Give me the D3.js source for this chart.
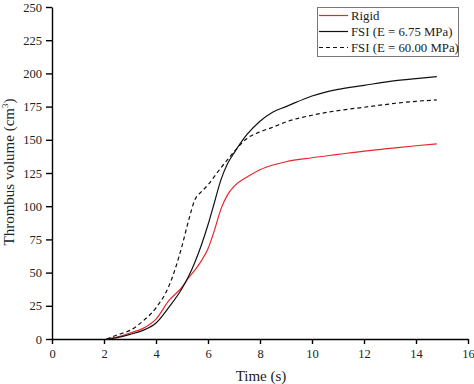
<!DOCTYPE html>
<html><head><meta charset="utf-8">
<script src="https://cdn.jsdelivr.net/npm/d3@7"></script>
<style>body{margin:0;background:#fff}svg{display:block}</style>
</head><body>
<svg id="c" width="474" height="384"></svg>
<script>
const times  = [2.1, 2.5, 3, 3.5, 4, 4.5, 5, 5.25, 5.5, 5.75, 6, 6.25, 6.5, 6.75, 7, 7.5, 8, 8.5, 9, 10, 11, 12, 13, 14, 14.8];
const rigid  = [0, 1.5, 4.5, 8, 15, 29, 39, 46, 52, 59, 68, 82, 98, 108.5, 115, 122, 127.5, 131, 133.5, 136.5, 139, 141.5, 143.5, 145.5, 147];
const fsi675 = [0, 1, 3.5, 6.5, 12, 24, 38, 47, 58, 71, 86, 103, 120, 132, 140, 154, 164, 171, 175, 183, 188, 191, 194, 196, 197.5];
const fsi60  = [0, 3, 6.5, 13.5, 23.5, 40, 70, 89, 105, 111, 116, 122.5, 129, 135, 141, 151, 156, 159.5, 163.5, 168.5, 172, 174.5, 177, 179, 180];
const xTicks = [0, 2, 4, 6, 8, 10, 12, 14, 16];
const yTicks = [0, 25, 50, 75, 100, 125, 150, 175, 200, 225, 250];
const seriesNames = ["Rigid", "FSI (E = 6.75 MPa)", "FSI (E = 60.00 MPa)"];

const svg = d3.select("#c");
const font = "'Liberation Serif', 'Times New Roman', serif";
const x = d3.scaleLinear().domain([0, 16]).range([52, 468]);
const y = d3.scaleLinear().domain([0, 250]).range([339, 7]);

const xa = svg.append("g").attr("transform", "translate(0,339)")
  .call(d3.axisBottom(x).tickValues(xTicks).tickSize(5).tickSizeOuter(0).tickPadding(5));
const ya = svg.append("g").attr("transform", "translate(52,0)")
  .call(d3.axisLeft(y).tickValues(yTicks).tickSize(6).tickSizeOuter(0).tickPadding(4));
[xa, ya].forEach(a => {
  a.selectAll("path, line").attr("stroke", "#000").attr("stroke-width", 1.4);
  a.selectAll("text").attr("font-family", font).attr("font-size", 12.5).attr("fill", "#222");
});

const series = [
  {name: seriesNames[0], v: rigid, color: "#e8262d", dash: null},
  {name: seriesNames[1], v: fsi675, color: "#111", dash: null},
  {name: seriesNames[2], v: fsi60, color: "#111", dash: "4,3"}
];
const line = d3.line().x(d => x(d[0])).y(d => y(d[1])).curve(d3.curveMonotoneX);
series.forEach(s => {
  svg.append("path").datum(times.map((t, i) => [t, s.v[i]]))
    .attr("d", line).attr("fill", "none").attr("stroke", s.color)
    .attr("stroke-width", 1.2).attr("stroke-dasharray", s.dash);
});

svg.append("text").attr("x", 261).attr("y", 381).attr("text-anchor", "middle")
  .attr("font-family", font).attr("font-size", 15).attr("fill", "#222").text("Time (s)");
const yl = svg.append("text").attr("transform", "translate(14,172) rotate(-90)")
  .attr("text-anchor", "middle").attr("font-family", font).attr("font-size", 15).attr("fill", "#222");
yl.append("tspan").text("Thrombus volume (cm");
yl.append("tspan").attr("font-size", 9).attr("dy", -6).text("3");
yl.append("tspan").attr("dy", 6).text(")");

const lg = svg.append("g");
lg.append("rect").attr("x", 317.5).attr("y", 7.5).attr("width", 141).attr("height", 49)
  .attr("fill", "#fff").attr("stroke", "#777").attr("stroke-width", 1);
series.forEach((s, i) => {
  const yy = 15.5 + i * 16;
  lg.append("line").attr("x1", 319).attr("x2", 348).attr("y1", yy).attr("y2", yy)
    .attr("stroke", s.color).attr("stroke-width", 1.2).attr("stroke-dasharray", s.dash);
  lg.append("text").attr("x", 351).attr("y", yy + 4.5).attr("font-family", font)
    .attr("font-size", 12.8).attr("fill", "#222").text(s.name);
});
</script>
</body></html>
